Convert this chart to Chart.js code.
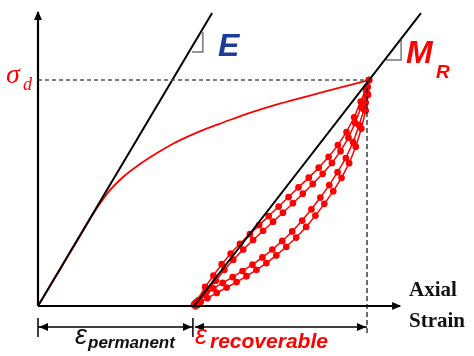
<!DOCTYPE html>
<html><head><meta charset="utf-8">
<script src="https://cdn.jsdelivr.net/npm/chart.js@4"></script>
<style>html,body{margin:0;padding:0;background:#fff}#wrap{width:474px;height:356px;position:relative}</style>
</head><body><div id="wrap"><canvas id="c"></canvas></div>
<script>
// ---- data (x: axial strain, normalised so peak strain = 1; y: stress, normalised so sigma_d = 1)
const E_LINE = [[0,0],[0.526,1.296]];
const MR_LINE = [[0.471,0],[1.157,1.296]];
const LOAD_X = [0,0.0665,0.127,0.178,0.2175,0.257,0.308,0.3595,0.408,0.459,0.511,0.559,0.640,0.710,0.813,0.912,1.0];
const LOAD_Y = [0,0.1615,0.310,0.434,0.513,0.571,0.628,0.677,0.718,0.754,0.786,0.812,0.855,0.887,0.928,0.966,1.0];
const LOOP_A_UP = [[0.477,0.015],[0.505,0.085],[0.530,0.135],[0.555,0.185],[0.582,0.232],[0.610,0.275],[0.640,0.318],[0.668,0.358],[0.697,0.398],[0.727,0.440],[0.757,0.482],[0.787,0.525],[0.818,0.568],[0.848,0.612],[0.878,0.660],[0.906,0.712],[0.932,0.770],[0.955,0.835],[0.975,0.905],[0.992,0.965],[1.0,1.0]];
const LOOP_A_LO = [[0.480,0.008],[0.510,0.065],[0.537,0.112],[0.563,0.160],[0.590,0.205],[0.620,0.250],[0.650,0.292],[0.680,0.333],[0.710,0.373],[0.740,0.413],[0.770,0.455],[0.800,0.497],[0.830,0.540],[0.860,0.585],[0.888,0.633],[0.914,0.685],[0.938,0.745],[0.958,0.810],[0.976,0.880],[0.992,0.950],[1.0,1.0]];
const LOOP_B_UP = [[0.478,0.015],[0.505,0.050],[0.530,0.078],[0.558,0.102],[0.588,0.128],[0.618,0.155],[0.648,0.183],[0.678,0.215],[0.708,0.250],[0.738,0.288],[0.768,0.330],[0.798,0.378],[0.826,0.428],[0.853,0.480],[0.880,0.535],[0.905,0.592],[0.930,0.655],[0.952,0.725],[0.970,0.800],[0.985,0.870],[0.995,0.940],[1.0,1.0]];
const LOOP_B_LO = [[0.482,0.008],[0.512,0.035],[0.540,0.058],[0.570,0.082],[0.600,0.106],[0.630,0.132],[0.660,0.160],[0.690,0.190],[0.720,0.224],[0.750,0.262],[0.780,0.303],[0.810,0.350],[0.838,0.400],[0.865,0.452],[0.892,0.508],[0.917,0.567],[0.940,0.632],[0.960,0.705],[0.977,0.785],[0.990,0.865],[0.997,0.935],[1.0,1.0]];
const LOOP_START = [[0.482,0.012],[0.487,0.02],[0.476,0.006]];
const PEAK_CLUSTER = [[0.996,0.97],[0.992,0.93],[0.99,0.9],[0.985,0.87]];
const PEAK = [1.0,1.0];
const PERM_STRAIN = 0.468;
const REC_END = 0.994;
const X_AXIS_END = 1.094;
const Y_AXIS_END = 1.301;
const E_TRI = [[0.465,1.124],[0.498,1.124],[0.498,1.212]];
const MR_TRI = [[1.051,1.088],[1.097,1.088],[1.097,1.177]];
const DIM_Y = -0.093;

const pts = a => a.map(p => ({x:p[0], y:p[1]}));
const RED = '#ff0000';
const line = (data, color, w, extra) => Object.assign({data: pts(data), showLine:true, borderColor:color, backgroundColor:color, borderWidth:w, pointRadius:0}, extra||{});

const datasets = [
  line([[0,0],[0,Y_AXIS_END]], '#000', 2.2),
  line([[0,0],[X_AXIS_END,0]], '#000', 2.2),
  line([[0,PEAK[1]],[PEAK[0],PEAK[1]]], '#555', 1.3, {borderDash:[4,3]}),
  line([[REC_END,PEAK[1]],[REC_END,-0.119]], '#222', 1.3, {borderDash:[5,3]}),
  line(E_LINE, '#000', 2),
  line(MR_LINE, '#000', 2),
  line(E_TRI, '#777', 1.5),
  line(MR_TRI, '#777', 1.5),
  {data: LOAD_X.map((x,i)=>({x, y:LOAD_Y[i]})), showLine:true, borderColor:RED, borderWidth:1.8, pointRadius:0, cubicInterpolationMode:'monotone'},
  line(LOOP_A_UP, RED, 1.5, {pointRadius:2.6, pointStyle:'circle'}),
  line(LOOP_A_LO, RED, 1.5, {pointRadius:2.6, pointStyle:'circle'}),
  line(LOOP_B_UP, RED, 1.5, {pointRadius:2.6, pointStyle:'circle'}),
  line(LOOP_B_LO, RED, 1.5, {pointRadius:2.6, pointStyle:'circle'}),
  {data: pts(LOOP_START), borderColor:RED, backgroundColor:RED, pointRadius:4.5, showLine:false},
  {data: pts(PEAK_CLUSTER), borderColor:RED, backgroundColor:RED, pointRadius:3, showLine:false},
  line([[0,DIM_Y],[PERM_STRAIN,DIM_Y]], '#000', 1.5),
  line([[PERM_STRAIN+0.006,DIM_Y],[REC_END,DIM_Y]], '#000', 1.5),
  line([[0,-0.053],[0,-0.137]], '#000', 1.5),
  line([[PERM_STRAIN,-0.053],[PERM_STRAIN,-0.137]], '#000', 1.5)
];

function tri(ctx, x, y, dx, dy, len, hw){
  const px=-dy, py=dx;
  ctx.beginPath();
  ctx.moveTo(x,y);
  ctx.lineTo(x-dx*len+px*hw, y-dy*len+py*hw);
  ctx.lineTo(x-dx*len-px*hw, y-dy*len-py*hw);
  ctx.closePath(); ctx.fill();
}

const deco = {
  id:'deco',
  afterDatasetsDraw(chart){
    const ctx = chart.ctx, sx = chart.scales.x, sy = chart.scales.y;
    const X = v => sx.getPixelForValue(v), Y = v => sy.getPixelForValue(v);
    ctx.save();
    ctx.fillStyle = '#000';
    tri(ctx, X(0), Y(Y_AXIS_END)-1, 0, -1, 9, 4);
    tri(ctx, X(X_AXIS_END)+1, Y(0), 1, 0, 9, 4);
    const dy = Y(DIM_Y);
    tri(ctx, X(0)+1, dy, -1, 0, 9, 4);
    tri(ctx, X(PERM_STRAIN)-1, dy, 1, 0, 9, 4);
    tri(ctx, X(PERM_STRAIN)+2, dy, -1, 0, 9, 4);
    tri(ctx, X(REC_END)-1, dy, 1, 0, 9, 4);
    ctx.textBaseline = 'alphabetic';
    ctx.textAlign = 'left';
    ctx.fillStyle = RED;
    ctx.font = 'italic 28px "Liberation Serif"';
    ctx.fillText('σ', 6, 83);
    ctx.font = 'italic 18px "Liberation Serif"';
    ctx.fillText('d', 23, 90);
    ctx.fillStyle = '#1b3d98';
    ctx.font = 'bold italic 32px "Liberation Sans"';
    ctx.fillText('E', 218, 56);
    ctx.fillStyle = RED;
    ctx.font = 'bold italic 32px "Liberation Sans"';
    ctx.fillText('M', 406, 63);
    ctx.font = 'bold italic 19px "Liberation Sans"';
    ctx.fillText('R', 436, 78);
    ctx.fillStyle = '#111';
    ctx.font = 'bold 21px "Liberation Serif"';
    ctx.fillText('Axial', 409, 296);
    ctx.fillText('Strain', 409, 327);
    ctx.font = 'italic 27px "Liberation Sans"';
    ctx.fillText('ε', 75, 344);
    ctx.font = 'bold italic 17px "Liberation Sans"';
    ctx.fillText('permanent', 88, 348);
    ctx.fillStyle = RED;
    ctx.font = 'italic 27px "Liberation Sans"';
    ctx.fillText('ε', 195, 344);
    ctx.font = 'bold italic 21px "Liberation Sans"';
    ctx.fillText('recoverable', 210, 348);
    ctx.restore();
  }
};

new Chart(document.getElementById('c'), {
  type:'scatter',
  data:{datasets},
  options:{
    responsive:true, maintainAspectRatio:false, animation:false,
    layout:{padding:0, autoPadding:false},
    plugins:{legend:{display:false}, tooltip:{enabled:false}},
    scales:{
      x:{type:'linear', display:false, min:-0.1148, max:1.3172},
      y:{type:'linear', display:false, min:-0.2212, max:1.354}
    }
  },
  plugins:[deco]
});
</script></body></html>
